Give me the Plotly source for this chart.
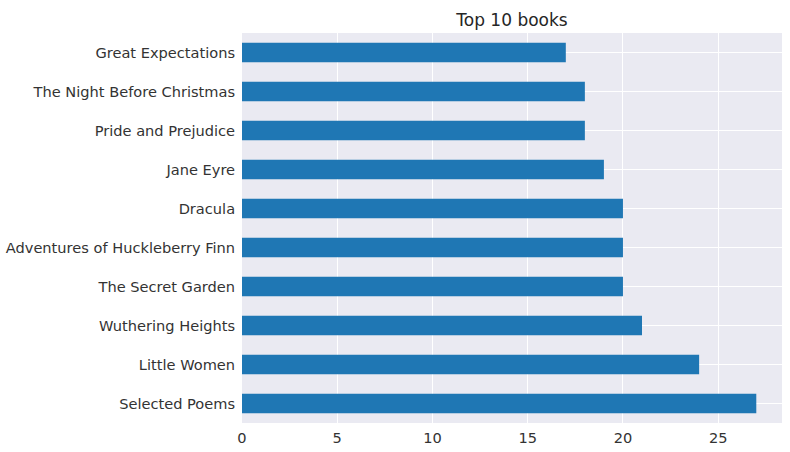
import plotly.graph_objects as go

books = ["Selected Poems", "Little Women", "Wuthering Heights", "The Secret Garden",
         "Adventures of Huckleberry Finn", "Dracula", "Jane Eyre",
         "Pride and Prejudice", "The Night Before Christmas", "Great Expectations"]
counts = [27, 24, 21, 20, 20, 20, 19, 18, 18, 17]
x_ticks = [0, 5, 10, 15, 20, 25]

fig = go.Figure(go.Bar(
    x=counts, y=books, orientation="h", width=0.5,
    marker=dict(color="#1f77b4", line=dict(width=0)),
))

fig.update_layout(
    width=790, height=452,
    margin=dict(l=242, r=8, t=33, b=29),
    paper_bgcolor="white", plot_bgcolor="#EAEAF2",
    font=dict(family="DejaVu Sans", size=14.6, color="#333333"),
    title=dict(text="Top 10 books", x=(242 + 782) / 2 / 790, xanchor="center",
               y=1 - 20 / 452, yanchor="middle", font=dict(size=17, color="#262626")),
    showlegend=False,
)
fig.update_xaxes(range=[0, 28.35], tickvals=x_ticks, showgrid=True, gridcolor="white",
                 gridwidth=1, zeroline=False, showline=False, ticks="outside", ticklen=1,
                 tickcolor="rgba(0,0,0,0)", automargin=False)
fig.update_yaxes(type="category", categoryorder="array", categoryarray=books,
                 range=[-0.5, 9.5], showgrid=True, gridcolor="white", gridwidth=1,
                 zeroline=False, showline=False, ticks="outside", ticklen=3,
                 tickcolor="rgba(0,0,0,0)", automargin=False)

fig.write_html("out.html")
